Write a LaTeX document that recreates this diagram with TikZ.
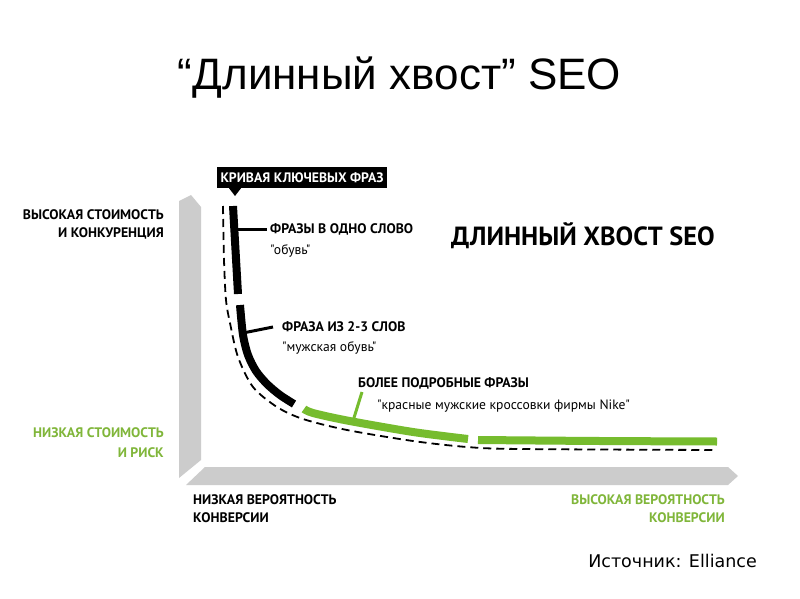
\documentclass[tikz,border=0pt]{standalone}
\usepackage{fontspec}
\setmainfont{Liberation Sans}
\newfontfamily\labfont{PT Sans}
\newfontfamily\srcfont{DejaVu Sans}
\definecolor{axisgray}{RGB}{204,204,204}
\definecolor{curvegreen}{RGB}{118,188,46}
\definecolor{textgreen}{RGB}{128,182,58}
\tikzset{
  capslabel/.style={inner sep=0pt, font=\labfont\bfseries\fontsize{13.8}{18}\selectfont},
  quotelabel/.style={inner sep=0pt, font=\labfont\fontsize{13.6}{15}\selectfont},
  axislabel/.style={inner sep=0pt, font=\labfont\bfseries\fontsize{13.8}{18}\selectfont},
  blackseg/.style={line width=8pt, black},
  greenseg/.style={line width=8pt, curvegreen},
  guide/.style={line width=1.8pt, dash pattern=on 8pt off 5pt},
  leader/.style={line width=3pt},
  axisbar/.style={fill=axisgray, draw=none},
}
\begin{document}
\begin{tikzpicture}[x=1pt,y=-1pt]
\useasboundingbox[fill=white] (0,0) rectangle (800,599);

% title
\node[inner sep=0pt, anchor=base, font=\fontsize{44}{50}\selectfont] (title) at (399.5,90) {“Длинный хвост” SEO};

% axes
\fill[axisbar] (179,201) -- (191,195) -- (201,207) -- (201,460) -- (179,478) -- cycle;
\fill[axisbar] (186,485) -- (205,467) -- (728,467) -- (738,476) -- (728,485) -- cycle;

% axis labels
\node[axislabel, align=right, anchor=east] (hicost) at (164,224.5) {ВЫСОКАЯ СТОИМОСТЬ\\И КОНКУРЕНЦИЯ};
\node[axislabel, align=right, anchor=east, text=textgreen] (locost) at (164,442.5) {НИЗКАЯ СТОИМОСТЬ\\[2pt]И РИСК};
\node[axislabel, align=left, anchor=west] (loconv) at (193,508.5) {НИЗКАЯ ВЕРОЯТНОСТЬ\\КОНВЕРСИИ};
\node[axislabel, align=right, anchor=east, text=textgreen] (hiconv) at (725,508.5) {ВЫСОКАЯ ВЕРОЯТНОСТЬ\\КОНВЕРСИИ};

% key phrase box
\node[fill=black, text=white, inner sep=0pt, minimum width=170pt, minimum height=21pt,
      font=\labfont\bfseries\fontsize{13.7}{16}\selectfont] (keybox) at (302,177.5) {КРИВАЯ КЛЮЧЕВЫХ ФРАЗ};
\fill ([xshift=-6pt]keybox.south west -| 235,0) -- ([xshift=6pt]keybox.south west -| 235,0) -- (235,196) -- cycle;

% big label
\node[inner sep=0pt, anchor=base west, font=\labfont\bfseries\fontsize{26.3}{30}\selectfont] (longtail) at (451,245) {ДЛИННЫЙ ХВОСТ SEO};

% guide dashed curve
\draw[guide] plot[smooth] coordinates {(223,206) (224,260) (226,300) (230,323) (238,357) (253,387) (277,407) (303,419) (347,430) (413,441) (467,447) (520,449) (717,450)};

% curve segments
\draw[blackseg] plot[smooth] coordinates {(233,206) (235.5,250) (238,294)};
\draw[blackseg] plot[smooth] coordinates {(240,305) (243,335) (248,355) (256,371) (267,384) (280,395) (294,404)};
\draw[greenseg] plot[smooth] coordinates {(304,409) (313,413) (347,420.5) (413,432) (468,439)};
\draw[greenseg] plot[smooth] coordinates {(478,440) (600,441) (717,441.5)};

% phrase labels
\node[capslabel, anchor=base west] (phrase1) at (270,233.5) {ФРАЗЫ В ОДНО СЛОВО};
\node[quotelabel, anchor=base west] (quote1) at (270,254) {"обувь"};
\node[capslabel, anchor=base west] (phrase2) at (282,331.5) {ФРАЗА ИЗ 2-3 СЛОВ};
\node[quotelabel, anchor=base west] (quote2) at (282,351) {"мужская обувь"};
\node[capslabel, anchor=base west] (phrase3) at (358,387.5) {БОЛЕЕ ПОДРОБНЫЕ ФРАЗЫ};
\node[quotelabel, anchor=base west] (quote3) at (377,409) {"красные мужские кроссовки фирмы Nike"};

% leaders
\coordinate (l1a) at (236,229);
\coordinate (l1b) at (267,229);
\draw[leader] (l1a) -- (l1b);
\coordinate (l2a) at (243,333);
\coordinate (l2b) at (273,327);
\draw[leader] (l2a) -- (l2b);
\coordinate (l3a) at (353,421);
\coordinate (l3b) at (362,392);
\draw[leader, curvegreen] (l3a) -- (l3b);

% source
\node[inner sep=0pt, anchor=base east, font=\srcfont\fontsize{17.5}{20}\selectfont] (source) at (757,567) {Источник: Elliance};
\end{tikzpicture}
\end{document}
